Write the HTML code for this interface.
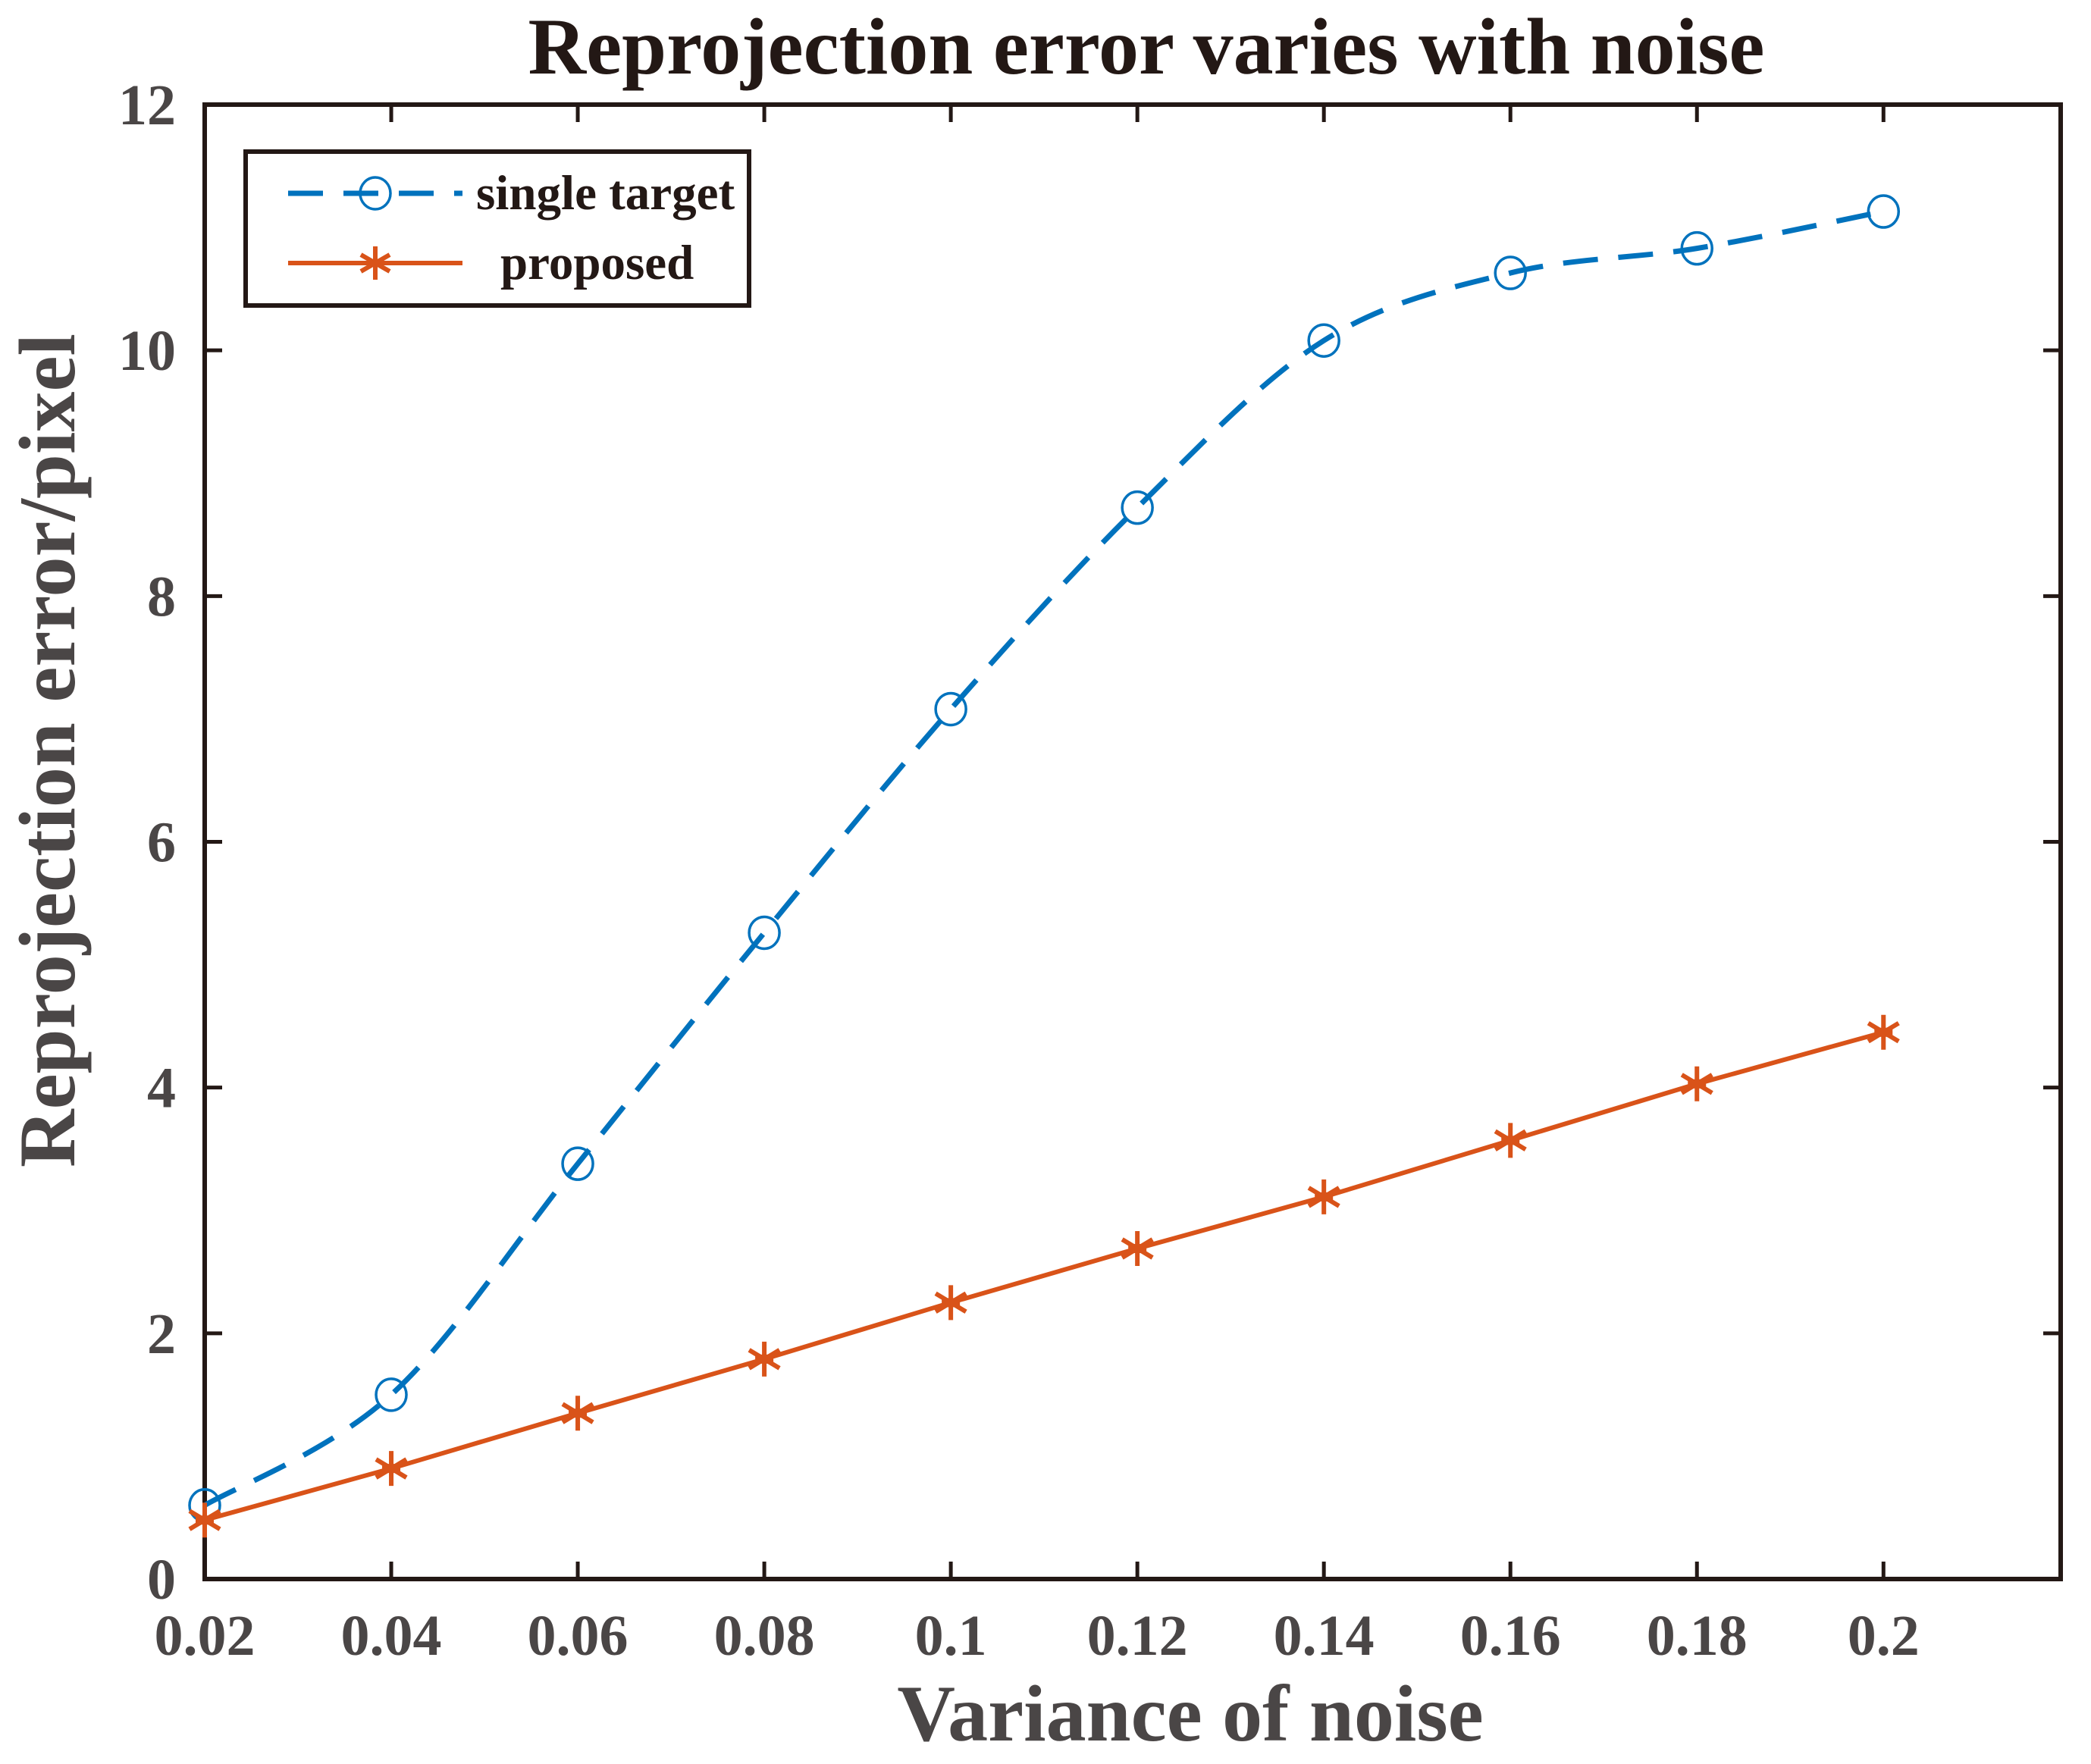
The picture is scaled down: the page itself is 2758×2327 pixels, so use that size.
<!DOCTYPE html>
<html><head><meta charset="utf-8"><style>
html,body{margin:0;padding:0;background:#fff;}
svg{display:block;font-family:"Liberation Serif",serif;font-weight:bold;}
</style></head><body>
<svg id="chart" width="2758" height="2327" viewBox="0 0 2758 2327" xmlns="http://www.w3.org/2000/svg">
<text x="1512" y="97" font-size="106" fill="#231815" text-anchor="middle">Reprojection error varies with noise</text>
<text x="1570" y="2296" font-size="106" fill="#4a4646" text-anchor="middle">Variance of noise</text>
<text transform="translate(98,990) rotate(-90)" font-size="106" fill="#4a4646" text-anchor="middle">Reprojection error/pixel</text>
<g id="grid"></g>
<g id="series"></g>
<g>
<rect x="324" y="200" width="664" height="203" fill="#fff" stroke="#231815" stroke-width="6"/>
<g>
<line x1="380" y1="255" x2="610" y2="255" stroke="#0072BD" stroke-width="7" stroke-dasharray="46,27"/>
<ellipse cx="495" cy="255" rx="20" ry="21" fill="none" stroke="#0072BD" stroke-width="3.5"/>
<text x="628" y="276" font-size="65" fill="#231815">single target</text>
</g>
<g>
<line x1="380" y1="347" x2="610" y2="347" stroke="#D95319" stroke-width="6"/>
<g stroke="#D95319" stroke-width="6">
<line x1="495" y1="325" x2="495" y2="369"/><line x1="476" y1="336" x2="514" y2="358"/><line x1="476" y1="358" x2="514" y2="336"/>
</g>
<text x="660" y="368" font-size="65" fill="#231815">proposed</text>
</g>
</g>
</svg>
<script>
const xValues = [0.02,0.04,0.06,0.08,0.1,0.12,0.14,0.16,0.18,0.2];
const singleTarget = [0.6,1.5,3.38,5.26,7.08,8.72,10.08,10.63,10.83,11.13];
const proposed = [0.48,0.9,1.35,1.79,2.25,2.69,3.11,3.57,4.03,4.45];
const xTickLabels = ["0.02","0.04","0.06","0.08","0.1","0.12","0.14","0.16","0.18","0.2"];
const yTicks = [0,2,4,6,8,10,12];

const L=270,R=2718,T=138,B=2083,XMIN=0.02,XMAX=0.219,YMIN=0,YMAX=12;
const sx=v=>L+(v-XMIN)/(XMAX-XMIN)*(R-L);
const sy=v=>B-(v-YMIN)/(YMAX-YMIN)*(B-T);
const NS="http://www.w3.org/2000/svg";
function mk(tag,attrs,parent){const e=document.createElementNS(NS,tag);for(const k in attrs)e.setAttribute(k,attrs[k]);parent.appendChild(e);return e;}
const axes=document.getElementById('grid');
const ser=document.getElementById('series');
const TL=23;
xValues.forEach((v,i)=>{
  const x=sx(v);
  const t1=mk('line',{x1:x,y1:B,x2:x,y2:B-TL,stroke:'#231815','stroke-width':5},axes);
  
  
  const t2=mk('line',{x1:x,y1:T,x2:x,y2:T+TL,stroke:'#231815','stroke-width':5},axes);
  
  
  const lb=mk('text',{x:x,y:2183,'font-size':76,fill:'#4a4646','text-anchor':'middle'},axes);
  lb.textContent=xTickLabels[i];
  
  
});
yTicks.forEach(v=>{
  const y=sy(v);
  const t1=mk('line',{x1:L,y1:y,x2:L+TL,y2:y,stroke:'#231815','stroke-width':5},axes);
  
  
  const t2=mk('line',{x1:R,y1:y,x2:R-TL,y2:y,stroke:'#231815','stroke-width':5},axes);
  
  
  const lb=mk('text',{x:232,y:y+26,'font-size':76,fill:'#4a4646','text-anchor':'end'},axes);
  lb.textContent=String(v);
  
  
});
const box=mk('rect',{x:L,y:T,width:R-L,height:B-T,fill:'none',stroke:'#231815','stroke-width':6},axes);



const pts=xValues.map((v,i)=>[sx(v),sy(singleTarget[i])]);
let d='M'+pts[0][0]+','+pts[0][1];
for(let i=0;i<pts.length-1;i++){
  const p0=pts[Math.max(i-1,0)],p1=pts[i],p2=pts[i+1],p3=pts[Math.min(i+2,pts.length-1)];
  const c1=[p1[0]+(p2[0]-p0[0])/6,p1[1]+(p2[1]-p0[1])/6];
  const c2=[p2[0]-(p3[0]-p1[0])/6,p2[1]-(p3[1]-p1[1])/6];
  d+=' C'+c1+' '+c2+' '+p2;
}
const sl=mk('path',{d:d,fill:'none',stroke:'#0072BD','stroke-width':7,'stroke-dasharray':'46,27'},ser);


pts.forEach(p=>{
  const c=mk('ellipse',{cx:p[0],cy:p[1],rx:20,ry:21,fill:'none',stroke:'#0072BD','stroke-width':3.5},ser);
  
  
});
const pp=xValues.map((v,i)=>[sx(v),sy(proposed[i])]);
const pl=mk('polyline',{points:pp.map(p=>p.join(',')).join(' '),fill:'none',stroke:'#D95319','stroke-width':6},ser);


pp.forEach(p=>{
  const g=mk('g',{stroke:'#D95319','stroke-width':6},ser);
  
  
  mk('line',{x1:p[0],y1:p[1]-23,x2:p[0],y2:p[1]+23},g);
  mk('line',{x1:p[0]-20,y1:p[1]-12,x2:p[0]+20,y2:p[1]+12},g);
  mk('line',{x1:p[0]-20,y1:p[1]+12,x2:p[0]+20,y2:p[1]-12},g);
  mk('line',{x1:p[0]-12,y1:p[1],x2:p[0]+12,y2:p[1],'stroke-width':12},g);
});
</script>
</body></html>
